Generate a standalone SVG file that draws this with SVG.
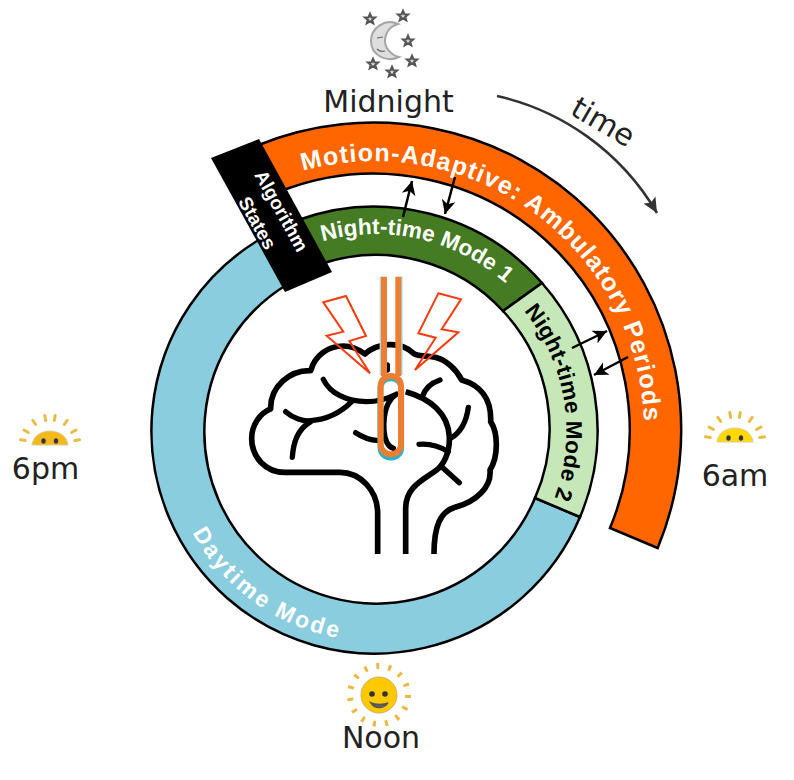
<svg xmlns="http://www.w3.org/2000/svg" xmlns:xlink="http://www.w3.org/1999/xlink" width="794" height="780" viewBox="0 0 794 780">
<style>
.ring{stroke:#000;stroke-width:2.5}
.lbl{font-family:"DejaVu Sans",Verdana,sans-serif;font-size:30px;fill:#222}
.b{font-family:"Liberation Sans",Arial,sans-serif;font-weight:bold}
.w{fill:#fff}
.arr{fill:none;stroke:#000;stroke-width:2.5;marker-end:url(#ah)}
.br{fill:none;stroke:#000;stroke-width:16;stroke-linecap:round;stroke-linejoin:round}
.stem{fill:none;stroke:#000;stroke-width:17;stroke-linejoin:round}
.bolt{fill:none;stroke:#f83c10;stroke-width:6}
.star{fill:#ddd;stroke:#555;stroke-width:2.2}
.ray{fill:none;stroke:#eabc45;stroke-width:3;stroke-linecap:round}
</style>
<defs>
<marker id="ah" markerUnits="userSpaceOnUse" markerWidth="15" markerHeight="15" viewBox="0 0 14 14" refX="13" refY="7" orient="auto"><path d="M0,0.5L13,7L0,13.500L3.500,7Z" fill="#000"/></marker>
<marker id="ahg" markerUnits="userSpaceOnUse" markerWidth="16" markerHeight="16" viewBox="0 0 16 16" refX="15" refY="8" orient="auto"><path d="M0,1L15,8L0,15L3,8Z" fill="#333"/></marker>
<path id="star" class="star" d="M0,-5L1.4,-1.700L4.900,-1.500L2.200,0.800L3.100,4.200L0,2.300L-3.100,4.200L-2.200,0.800L-4.900,-1.500L-1.400,-1.700Z"/>
<g id="halfsun">
<path d="M-18,0C-17,-9-9,-14 0,-14C9,-14 17,-9 18,0Z" stroke="#d8cfa0" stroke-width="1"/>
<ellipse cx="-6.500" cy="-4" rx="2.200" ry="2.800" fill="#334"/><ellipse cx="6" cy="-4" rx="2.200" ry="2.800" fill="#334"/>
<path class="ray" d="M-24.800,-4.400L-29.500,-5.200M-21.600,-12.500L-26,-15M-14.300,-20.500L-17.200,-24.600M-4.300,-24.600L-5.200,-29.500M4.300,-24.600L5.200,-29.500M14.300,-20.500L17.200,-24.600M21.600,-12.500L26,-15M24.800,-4.400L29.500,-5.200"/>
</g>
<path id="p-orange" d="M303,171A269,269 0 0 1 644,423"/>
<path id="p-n1" d="M322.500,241.300A197,197 0 0 1 507,284.600"/>
<path id="p-n2" d="M523.900,311A191,191 0 0 1 553.800,499.400"/>
<path id="p-day" d="M192.400,532.700A209,209 0 0 0 337.400,637.900"/>
</defs>

<g id="daytime"><path class="ring" fill="#89cddf" d="M580,517A223,223 0 1 1 262,238L288,284A172,172 0 1 0 535,498Z"/>
<text class="b w" font-size="23"><textPath xlink:href="#p-day" href="#p-day" textLength="185">Daytime Mode</textPath></text></g>

<g id="night1"><path class="ring" fill="#457b23" d="M298,220A223,223 0 0 1 542,283L503,311A172,172 0 0 0 321,264Z"/>
<text class="b w" font-size="22.500"><textPath xlink:href="#p-n1" href="#p-n1" textLength="196">Night-time Mode 1</textPath></text></g>

<g id="night2"><path class="ring" fill="#c6e8b8" d="M542,283A223,223 0 0 1 580,517L535,498A172,172 0 0 0 503,311Z"/>
<text class="b" font-size="22.500" fill="#000"><textPath xlink:href="#p-n2" href="#p-n2" textLength="198">Night-time Mode 2</textPath></text></g>

<g id="motion-adaptive"><path class="ring" fill="#ff6600" d="M256,146A307.500,307.500 0 0 1 657.700,548L610,528A256,256 0 0 0 281,191Z"/>
<text class="b w" font-size="25"><textPath xlink:href="#p-orange" href="#p-orange" textLength="486">Motion-Adaptive: Ambulatory Periods</textPath></text></g>

<g id="algorithm-states"><polygon points="211,158 259,139 332,272 285,292" fill="#000"/>
<g transform="translate(271.800,215) rotate(61)"><text class="b w" font-size="19" text-anchor="middle" x="1" y="-4">Algorithm</text><text class="b w" font-size="19" text-anchor="middle" x="0" y="23">States</text></g></g>

<g id="connectors">
<line class="arr" x1="403" y1="217" x2="412" y2="181"/>
<line class="arr" x1="455" y1="177" x2="445" y2="214"/>
<line class="arr" x1="572" y1="348" x2="607" y2="331"/>
<line class="arr" x1="628" y1="357" x2="594" y2="375"/>
<path d="M497,96C560,110 620,150 657,213" fill="none" stroke="#333" stroke-width="2.500" marker-end="url(#ahg)"/>
</g>

<g id="brain" transform="translate(240,270) scale(.33333)">
<path class="stem" d="M413,852V730C413,660 360,607 300,607H135C75,607 35,560 35,505C35,465 60,430 92,417C90,350 150,300 212,302C225,255 265,228 310,228C335,228 355,237 375,252C410,220 480,210 520,250C530,260 555,255 585,262C620,270 650,300 665,330C720,345 755,385 752,455C775,490 775,560 750,600C755,650 710,695 645,712C600,725 582,770 582,852"/>
<path class="stem" d="M497,852V715C497,650 550,630 590,600C610,585 630,550 628,500C625,430 570,385 497,365"/>
<path class="br" d="M250,328C270,370 320,395 380,395C420,395 445,385 470,372C435,395 430,440 432,480C434,510 445,530 460,535"/>
<path class="br" d="M335,395C290,440 240,450 212,452C190,455 160,445 137,425M212,455C170,480 160,520 157,562"/>
<path class="br" d="M347,488C365,500 390,510 415,512M600,330C570,340 555,355 547,380M685,412C680,450 665,485 632,505M537,523C570,520 600,530 625,545M605,590L658,638M442,285V300"/>
</g>

<g id="bolts" transform="translate(240,270) scale(.33333)">
<polygon class="bolt" points="250,97 318,78 378,198 328,213 390,310 260,197 310,185"/>
<polygon class="bolt" points="595,70 663,88 605,178 655,187 525,300 587,203 535,190"/>
</g>

<g id="probe" transform="translate(240,270) scale(.33333)">
<rect x="421" y="325" width="63" height="238" rx="30" fill="none" stroke="#2cb3c8" stroke-width="17"/>
<path d="M428,20V315M479,20V315" fill="none" stroke="#a9dfe8" stroke-width="18"/>
<g fill="none" stroke="#ed7d31" stroke-width="18">
<rect x="422" y="318" width="61" height="235" rx="30"/><path d="M432,20V318M475,20V318"/></g>
</g>

<g id="midnight">
<path d="M398,24C385,18 371,28 371,41C371,55 386,63 399,57C391,55 385,48 385,41C385,33 390,26 398,24Z" fill="#dedede" stroke="#a5a5a5" stroke-width="2"/>
<path d="M377,38L383,37M377,49C379,51 382,52 385,51" fill="none" stroke="#666" stroke-width="1.200"/>
<use href="#star" x="370" y="19"/><use href="#star" x="403" y="16"/><use href="#star" x="408" y="41"/><use href="#star" x="412" y="61"/><use href="#star" x="392" y="72"/><use href="#star" x="373" y="64"/>
<text class="lbl" x="388.500" y="112" text-anchor="middle">Midnight</text></g>

<g id="time-label"><text class="lbl" transform="translate(603,122) rotate(30)" y="10" text-anchor="middle">time</text></g>

<g id="sixam"><use href="#halfsun" x="735" y="442" fill="#ffd900"/><text class="lbl" x="735" y="486" text-anchor="middle">6am</text></g>
<g id="sixpm"><use href="#halfsun" x="50" y="445" fill="#f5b81a"/><text class="lbl" x="45.500" y="479" text-anchor="middle">6pm</text></g>

<g id="noon">
<circle cx="379" cy="695" r="29" fill="none" stroke="#eeb845" stroke-width="6" stroke-dasharray="3 9.150"/>
<circle cx="379" cy="695" r="18" fill="#ffc800" stroke="#c9b26a" stroke-width="1"/>
<circle cx="372" cy="694" r="2.800" fill="#333"/><circle cx="385" cy="694" r="2.800" fill="#333"/>
<path d="M371,703C375,709 383,709 388,703C384,705 375,705 371,703Z" fill="#666" stroke="#555" stroke-width="1.500"/>
<text class="lbl" x="381" y="748" text-anchor="middle">Noon</text></g>
</svg>
